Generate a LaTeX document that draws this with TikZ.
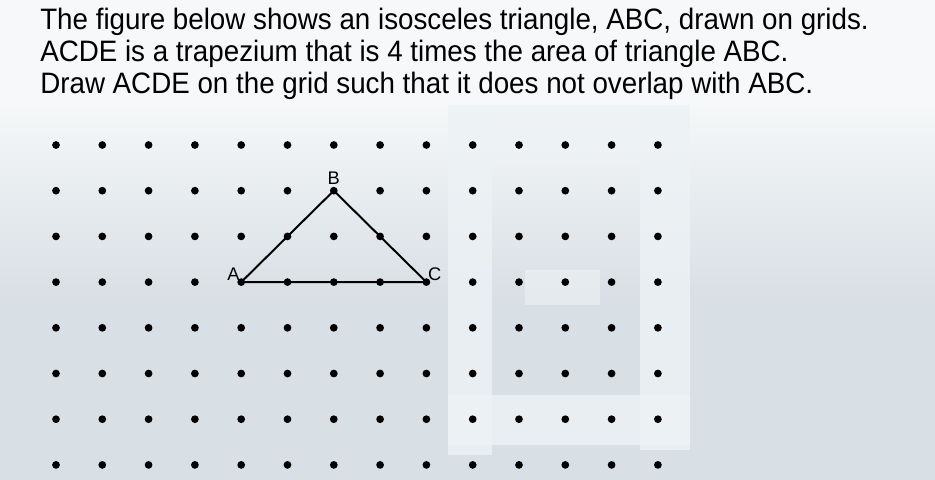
\documentclass[tikz,border=0pt]{standalone}
\usepackage{fontspec}
\setmainfont{Liberation Sans}
\usepackage{tikz}
\usetikzlibrary{shapes.geometric}
\usepackage{xcolor}
\definecolor{paper}{HTML}{D8DFE5}
\definecolor{papertop}{HTML}{F6F8F9}
\definecolor{tape}{HTML}{EDF2F5}

\tikzset{
	dot/.style={circle,inner sep=0pt,minimum size=5.5pt,fill=black},
	task/.style={anchor=base west,inner sep=0pt,font=\fontsize{21}{25}\selectfont},
	vlabel/.style={font=\fontsize{13}{15}\selectfont,inner sep=1pt}
}

\begin{document}
\begin{tikzpicture}[x=0.025cm,y=-0.025cm]
			\useasboundingbox (0,0) rectangle (935,480);
			\fill[papertop] (0,0) rectangle (935,100);
			\shade[top color=papertop,bottom color=paper] (0,100) rectangle (935,300);
			\fill[paper] (0,300) rectangle (935,480);
			% tape on the right
			\fill[tape,opacity=0.8] (448,112) rectangle (492,455);
			\fill[tape,opacity=0.8] (448,105) rectangle (690,165);
			\fill[tape,opacity=0.8] (640,110) rectangle (690,450);
			\fill[tape,opacity=0.8] (448,395) rectangle (690,445);
			\fill[tape,opacity=0.6] (525,270) rectangle (600,305);
			\node[task] (t1) at (40,29) {\scalebox{0.94}[1]{The figure below shows an isosceles triangle, ABC, drawn on grids.}};
			\node[task] (t2) at (40,61) {\scalebox{0.94}[1]{ACDE is a trapezium that is 4 times the area of triangle ABC.}};
			\node[task] (t3) at (40,93) {\scalebox{0.94}[1]{Draw ACDE on the grid such that it does not overlap with ABC.}};
			% the dot grid
			\foreach \i in {0,...,13}
				\foreach \j in {0,...,7}
					\node[dot] (d-\i-\j) at ({56+46.3*\i},{145+45.7*\j}) {};
			\coordinate (A) at (d-4-3);
			\coordinate (B) at (d-6-1);
			\coordinate (C) at (d-8-3);
			\node [vlabel,above left] (la) at (A) {A};
			\node [vlabel,above=3pt] (lb) at (B) {B};
			\node [vlabel,above right] (lc) at (C) {C};
			\draw[line width=1.4pt] (A) -- (B) -- (C) -- cycle;
		\end{tikzpicture}
\end{document}
